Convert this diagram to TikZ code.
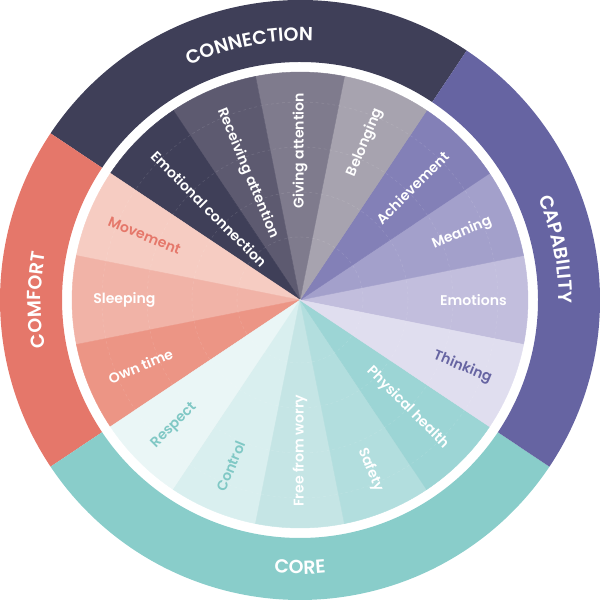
\documentclass[tikz,border=0pt]{standalone}
\usepackage{fontspec}
\setmainfont{Poppins}[BoldFont={* SemiBold}]
\newfontfamily\ringfont{Poppins}[LetterSpace=18,BoldFont={* SemiBold}]
\usetikzlibrary{decorations.text}
\definecolor{connection}{HTML}{3F3F58}
\definecolor{capability}{HTML}{6664A2}
\definecolor{core}{HTML}{89CDCA}
\definecolor{comfort}{HTML}{E5776A}
\definecolor{emoconn}{HTML}{3F3F58}
\definecolor{receiving}{HTML}{5D5A70}
\definecolor{giving}{HTML}{7F7B8D}
\definecolor{belonging}{HTML}{A7A3AF}
\definecolor{achievement}{HTML}{8380B7}
\definecolor{meaning}{HTML}{A3A0CB}
\definecolor{emotions}{HTML}{C2BEDD}
\definecolor{thinking}{HTML}{E0DEEF}
\definecolor{physical}{HTML}{9CD5D5}
\definecolor{safety}{HTML}{B2DEDE}
\definecolor{worry}{HTML}{C5E5E5}
\definecolor{control}{HTML}{D9EFEF}
\definecolor{respect}{HTML}{EAF6F6}
\definecolor{owntime}{HTML}{EC9585}
\definecolor{sleeping}{HTML}{F1B3A7}
\definecolor{movement}{HTML}{F6CCC2}
\definecolor{coretext}{HTML}{80C8C5}

\begin{document}
\begin{tikzpicture}[x=0.025cm,y=0.025cm,
  font=\fontsize{10}{12}\selectfont\bfseries,
  wlabel/.style={inner sep=0pt},
  ringtext/.style={decorate,decoration={text along path,text align=center,
    text color=white,text={|\ringfont\fontsize{13.5}{15}\selectfont\bfseries|#1}}}]
  \useasboundingbox (-300,-300) rectangle (300,300);
  \foreach \a/\b/\c in {56.25/146.25/connection,146.25/213.75/comfort,
                        213.75/326.25/core,-33.75/56.25/capability}{
    \fill[\c] (\a:300) arc (\a:\b:300) -- (\b:238) arc (\b:\a:238) -- cycle;
  }
  \foreach \a/\c in {0/emotions,22.5/meaning,45/achievement,67.5/belonging,
                     90/giving,112.5/receiving,135/emoconn,157.5/movement,
                     180/sleeping,202.5/owntime,225/respect,247.5/control,
                     270/worry,292.5/safety,315/physical,337.5/thinking}{
    \filldraw[fill=\c,draw=\c,line width=0.3pt]
      (0,0) -- (\a-11.25:228) arc (\a-11.25:\a+11.25:228) -- cycle;
  }
  \foreach \r in {63,108,153,198}{
    \draw[white,opacity=0.12,line width=0.4pt,dash pattern=on 2pt off 2pt]
      (0,0) circle (\r);
  }
  \foreach \a/\t/\c [count=\i] in {-67.5/Safety/white,
      -45/Physical health/white,-22.5/Thinking/capability,0/Emotions/white,
      22.5/Meaning/white,45/Achievement/white,67.5/Belonging/white,
      90/Giving attention/white}{
    \node[wlabel,text=\c,anchor=east,rotate=\a] (r\i) at (\a:207) {\t};
  }
  \foreach \a/\t/\c [count=\i] in {112.5/Receiving attention/white,
      135/Emotional connection/white,157.5/Movement/comfort,
      180/Sleeping/white,202.5/Own time/white,225/Respect/coretext,
      247.5/Control/coretext,270/Free from worry/white}{
    \node[wlabel,text=\c,anchor=west,rotate=\a-180] (l\i) at (\a:207) {\t};
  }
  \path[ringtext=CONNECTION] (146.25:259) arc (146.25:56.25:259);
  \path[ringtext=CAPABILITY] (56.25:259) arc (56.25:-33.75:259);
  \path[ringtext=COMFORT] (213.75:259) arc (213.75:146.25:259);
  \path[ringtext=CORE] (213.75:274) arc (213.75:326.25:274);
\end{tikzpicture}
\end{document}
